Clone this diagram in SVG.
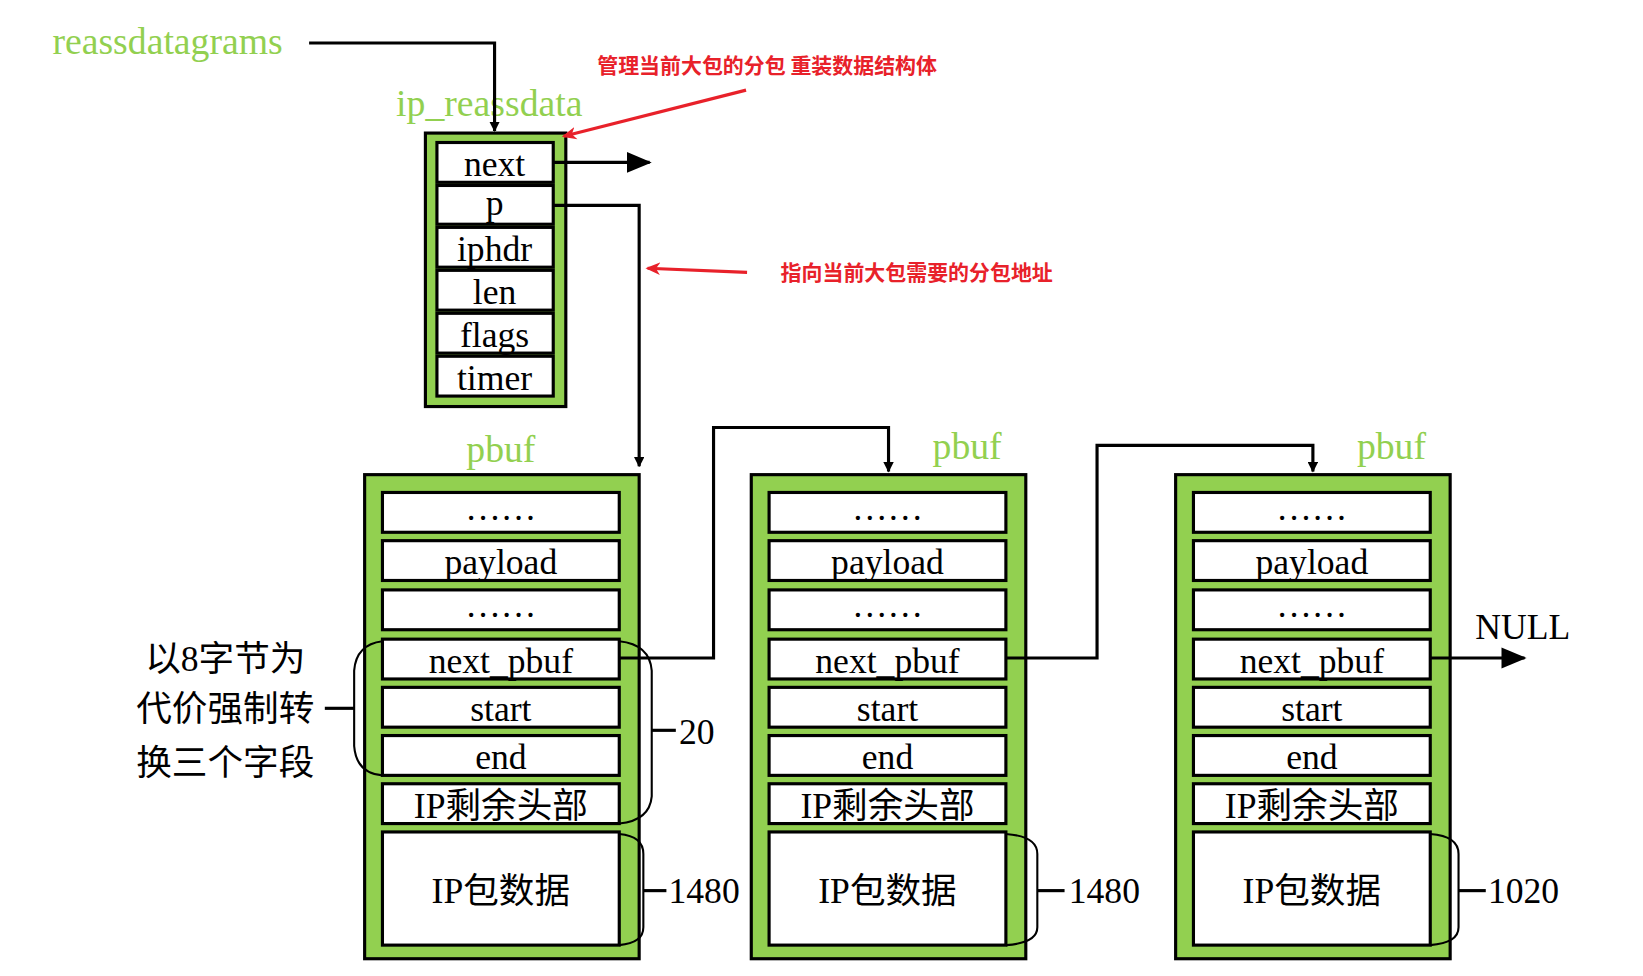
<svg xmlns="http://www.w3.org/2000/svg" width="1643" height="976" viewBox="0 0 1643 976">
<defs>
<marker id="ah" markerWidth="10" markerHeight="10" refX="9" refY="5" orient="auto" markerUnits="userSpaceOnUse" viewBox="0 0 10 10"><path d="M0,0 L10,5 L0,10 z" fill="#000"/></marker>
<marker id="bh" markerWidth="24" markerHeight="24" refX="22" refY="12" orient="auto" markerUnits="userSpaceOnUse" viewBox="0 0 24 24"><path d="M0,2 L24,12 L0,22 z" fill="#000"/></marker>
<marker id="rh" markerWidth="14" markerHeight="14" refX="12" refY="7" orient="auto" markerUnits="userSpaceOnUse" viewBox="0 0 14 14"><path d="M0,1 L14,7 L0,13 L4,7 z" fill="#e8212a"/></marker>
</defs>
<style>
.box{fill:#92d050;stroke:#000;stroke-width:3}
.cell{fill:#fff;stroke:#000;stroke-width:3}
.t{font-family:"Liberation Serif","Noto Sans CJK SC",serif;font-size:34px;fill:#000;text-anchor:middle}
.g{font-family:"Liberation Serif",serif;font-size:36px;fill:#92d050}
.r{font-family:"Noto Sans CJK SC",sans-serif;font-size:20px;font-weight:bold;fill:#e8212a}
.c{fill:none;stroke:#000;stroke-width:3}
.br{fill:none;stroke:#000;stroke-width:2}
</style>
<rect width="1643" height="976" fill="#fff"/>
<g transform="scale(1.0478)">
<text class="g" x="50" y="52">reassdatagrams</text>
<text class="g" x="378" y="111">ip_reassdata</text>
<text class="g" x="445" y="441">pbuf</text>
<text class="g" x="890" y="438">pbuf</text>
<text class="g" x="1295" y="438">pbuf</text>
<g id="ip_reassdata">
<rect class="box" x="406" y="127" width="134" height="261"/>
<rect class="cell" x="417" y="136" width="111" height="38"/><text class="t" x="472" y="168">next</text>
<rect class="cell" x="417" y="177" width="111" height="37"/><text class="t" x="472" y="205">p</text>
<rect class="cell" x="417" y="217" width="111" height="38"/><text class="t" x="472" y="249">iphdr</text>
<rect class="cell" x="417" y="258" width="111" height="38"/><text class="t" x="472" y="290">len</text>
<rect class="cell" x="417" y="299" width="111" height="38"/><text class="t" x="472" y="331">flags</text>
<rect class="cell" x="417" y="340" width="111" height="38"/><text class="t" x="472" y="372">timer</text>
</g>
<g id="pbuf1">
<rect class="box" x="348" y="453" width="262" height="462"/>
<rect class="cell" x="365" y="470" width="226" height="38"/><text class="t" x="478" y="496">……</text>
<rect class="cell" x="365" y="516" width="226" height="38"/><text class="t" x="478" y="548">payload</text>
<rect class="cell" x="365" y="563" width="226" height="38"/><text class="t" x="478" y="589">……</text>
<rect class="cell" x="365" y="610" width="226" height="38"/><text class="t" x="478" y="642">next_pbuf</text>
<rect class="cell" x="365" y="656" width="226" height="38"/><text class="t" x="478" y="688">start</text>
<rect class="cell" x="365" y="702" width="226" height="38"/><text class="t" x="478" y="734">end</text>
<rect class="cell" x="365" y="748" width="226" height="38"/><text class="t" x="478" y="781">IP剩余头部</text>
<rect class="cell" x="365" y="794" width="226" height="108"/><text class="t" x="478" y="862">IP包数据</text>
</g>
<g id="pbuf2">
<rect class="box" x="717" y="453" width="262" height="462"/>
<rect class="cell" x="734" y="470" width="226" height="38"/><text class="t" x="847" y="496">……</text>
<rect class="cell" x="734" y="516" width="226" height="38"/><text class="t" x="847" y="548">payload</text>
<rect class="cell" x="734" y="563" width="226" height="38"/><text class="t" x="847" y="589">……</text>
<rect class="cell" x="734" y="610" width="226" height="38"/><text class="t" x="847" y="642">next_pbuf</text>
<rect class="cell" x="734" y="656" width="226" height="38"/><text class="t" x="847" y="688">start</text>
<rect class="cell" x="734" y="702" width="226" height="38"/><text class="t" x="847" y="734">end</text>
<rect class="cell" x="734" y="748" width="226" height="38"/><text class="t" x="847" y="781">IP剩余头部</text>
<rect class="cell" x="734" y="794" width="226" height="108"/><text class="t" x="847" y="862">IP包数据</text>
</g>
<g id="pbuf3">
<rect class="box" x="1122" y="453" width="262" height="462"/>
<rect class="cell" x="1139" y="470" width="226" height="38"/><text class="t" x="1252" y="496">……</text>
<rect class="cell" x="1139" y="516" width="226" height="38"/><text class="t" x="1252" y="548">payload</text>
<rect class="cell" x="1139" y="563" width="226" height="38"/><text class="t" x="1252" y="589">……</text>
<rect class="cell" x="1139" y="610" width="226" height="38"/><text class="t" x="1252" y="642">next_pbuf</text>
<rect class="cell" x="1139" y="656" width="226" height="38"/><text class="t" x="1252" y="688">start</text>
<rect class="cell" x="1139" y="702" width="226" height="38"/><text class="t" x="1252" y="734">end</text>
<rect class="cell" x="1139" y="748" width="226" height="38"/><text class="t" x="1252" y="781">IP剩余头部</text>
<rect class="cell" x="1139" y="794" width="226" height="108"/><text class="t" x="1252" y="862">IP包数据</text>
</g>
<g id="connectors">
<path class="c" d="M295,41 H472 V125" marker-end="url(#ah)"/>
<path class="c" d="M528,155 H620" marker-end="url(#bh)"/>
<path class="c" d="M528,196 H610 V445" marker-end="url(#ah)"/>
<path class="c" d="M591,628 H681 V408 H848 V450" marker-end="url(#ah)"/>
<path class="c" d="M960,628 H1047 V425 H1253 V450" marker-end="url(#ah)"/>
<path class="c" d="M1365,628 H1455" marker-end="url(#bh)"/>
<path d="M712,86 L538,130" stroke="#e8212a" stroke-width="3" fill="none" marker-end="url(#rh)"/>
<path d="M713,260 L618,256" stroke="#e8212a" stroke-width="3" fill="none" marker-end="url(#rh)"/>
<path class="br" d="M365,612 Q340,615 338,640 V712 Q340,738 365,740"/>
<path class="c" d="M310,676 H338"/>
<path class="br" d="M591,612 Q620,615 622,640 V760 Q620,783 591,786"/>
<path class="c" d="M622,697 H645"/>
<path class="br" d="M591,796 Q614,798 614,815 V885 Q614,900 591,902"/>
<path class="c" d="M614,850 H636"/>
<path class="br" d="M960,796 Q990,798 990,815 V885 Q990,900 960,902"/>
<path class="c" d="M990,850 H1016"/>
<path class="br" d="M1365,796 Q1392,798 1392,815 V885 Q1392,900 1365,902"/>
<path class="c" d="M1392,850 H1418"/>
</g>
<text class="r" x="570" y="70">管理当前大包的分包 重装数据结构体</text>
<text class="r" x="745" y="267">指向当前大包需要的分包地址</text>
<text class="t" x="215" y="640">以8字节为</text>
<text class="t" x="215" y="688">代价强制转</text>
<text class="t" x="215" y="740">换三个字段</text>
<text class="t" x="648" y="710" style="text-anchor:start">20</text>
<text class="t" x="638" y="862" style="text-anchor:start">1480</text>
<text class="t" x="1020" y="862" style="text-anchor:start">1480</text>
<text class="t" x="1420" y="862" style="text-anchor:start">1020</text>
<text class="t" x="1408" y="610" style="text-anchor:start">NULL</text>
</g>
</svg>
